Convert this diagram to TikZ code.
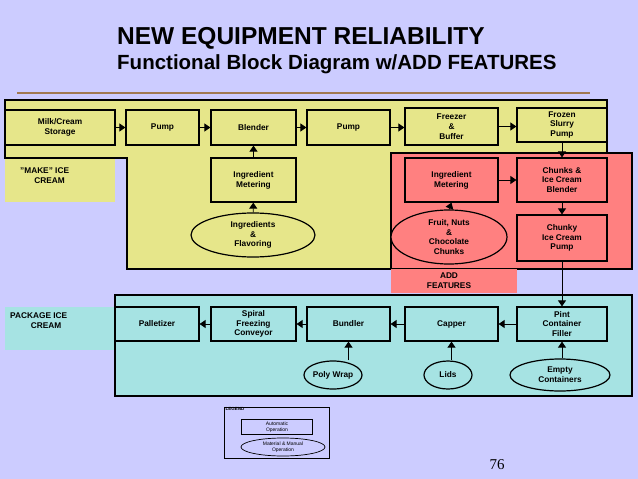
\documentclass[tikz,border=0pt]{standalone}
\usepackage{fontspec}
\setmainfont{Liberation Sans}
\usetikzlibrary{shapes.geometric,arrows.meta}
\definecolor{bg}{HTML}{CCCCFF}
\definecolor{yel}{HTML}{E6E68A}
\definecolor{redf}{HTML}{FF8080}
\definecolor{cyn}{HTML}{A6E3E3}
\definecolor{brn}{HTML}{A07850}
\tikzset{
 x=1pt,y=-1pt,
 blk/.style={draw,line width=1.2pt,font=\fontsize{8.3}{9.8}\selectfont\bfseries,align=center,inner sep=0pt},
 ell/.style={draw,ellipse,line width=1.2pt,font=\fontsize{8.3}{9.8}\selectfont\bfseries,align=center,inner sep=0pt},
 arr/.style={-{Triangle[length=6pt,width=8pt]},line width=0.8pt},
 lbl/.style={font=\fontsize{8.3}{9.8}\selectfont\bfseries,align=center,inner sep=0pt}
}
\newcommand{\bx}[6]{\node[blk,fill=#6,minimum width=#3-#1,minimum height=#4-#2] (#5) at ({(#1+#3)/2},{(#2+#4)/2})}
\begin{document}
\begin{tikzpicture}
\fill[bg] (0,0) rectangle (638,479);
\useasboundingbox (0,0) rectangle (638,479);
\node[anchor=west,font=\fontsize{24.5}{26}\selectfont\bfseries,inner sep=0pt] (t1) at (117,38) {NEW EQUIPMENT RELIABILITY};
\node[anchor=west,font=\fontsize{20.5}{22}\selectfont\bfseries,inner sep=0pt] (t2) at (117,64) {Functional Block Diagram w/ADD FEATURES};
\draw[brn,line width=2.5pt] (17,93) -- (590,93);
% regions
\fill[yel] (5,158) rectangle (115,202);
\node[lbl,anchor=north west] (mk) at (20,168) {"MAKE" ICE\\\hspace*{1.2em}CREAM};
\filldraw[fill=yel,line width=1.2pt] (5,100) -- (607,100) -- (607,269) -- (127,269) -- (127,158) -- (5,158) -- cycle;
\filldraw[fill=redf,line width=1.2pt] (391,153) rectangle (632,269);
\fill[redf] (391,269) rectangle (517,293);
\node[lbl] (af) at (449,281) {ADD\\FEATURES};
\fill[cyn] (5,307) rectangle (115,350);
\node[lbl,anchor=north west] (pk) at (10,313) {PACKAGE ICE\\\hspace*{1.8em}CREAM};
\filldraw[fill=cyn,line width=1.2pt] (115,295) rectangle (632,396);
% top row
\bx{5}{110}{115}{145}{a}{yel} {Milk/Cream\\Storage};
\bx{126}{110}{199}{145}{b}{yel} {Pump};
\bx{211}{110}{296}{145}{c}{yel} {Blender};
\bx{307}{110}{390}{145}{d}{yel} {Pump};
\bx{405}{108}{498}{145}{e}{yel} {Freezer\\\&\\Buffer};
\bx{517}{108}{607}{142}{f}{yel} {Frozen\\Slurry\\Pump};
\bx{211}{158}{296}{202}{g}{yel} {Ingredient\\Metering};
\node[ell,fill=yel,minimum width=124,minimum height=44] (h) at (253,235) {Ingredients\\\&\\Flavoring};
% red
\bx{405}{158}{498}{202}{i}{redf} {Ingredient\\Metering};
\bx{517}{158}{607}{202}{j}{redf} {Chunks \&\\Ice Cream\\Blender};
\bx{517}{215}{607}{261}{k}{redf} {Chunky\\Ice Cream\\Pump};
\node[ell,fill=redf,minimum width=116,minimum height=54] (l) at (449,237) {Fruit, Nuts\\\&\\Chocolate\\Chunks};
% cyan
\bx{115}{307}{199}{341}{m}{cyn} {Palletizer};
\bx{211}{307}{296}{341}{n}{cyn} {Spiral\\Freezing\\Conveyor};
\bx{307}{307}{390}{341}{o}{cyn} {Bundler};
\bx{405}{307}{498}{341}{p}{cyn} {Capper};
\bx{517}{307}{607}{341}{q}{cyn} {Pint\\Container\\Filler};
\node[ell,fill=cyn,minimum width=58,minimum height=28] (r) at (333,375) {Poly Wrap};
\node[ell,fill=cyn,minimum width=48,minimum height=28] (s) at (448,375) {Lids};
\node[ell,fill=cyn,minimum width=100,minimum height=32] (u) at (560,375) {Empty\\Containers};
% arrows
\draw[arr] (a) -- (b); \draw[arr] (b) -- (c); \draw[arr] (c) -- (d);
\draw[arr] (d.east) -- (e.west|-d.east); \draw[arr] (e) -- (f.west|-e);
\draw[arr] (g) -- (c); \draw[arr] (h) -- (g);
\draw[arr] (f) -- (j); \draw[arr] (i) -- (j); \draw[arr] (j) -- (k);
\draw[arr] (l.north) -- (i.south);
\draw[arr] (k) -- (q);
\draw[arr] (q) -- (p); \draw[arr] (p) -- (o); \draw[arr] (o) -- (n); \draw[arr] (n) -- (m);
\draw[arr] (r.north -| o) -- (o.south); \draw[arr] (s.north -| p) -- (p.south); \draw[arr] (u.north -| q) -- (q.south);
% legend
\draw[line width=0.8pt] (224,407) rectangle (329,458);
\node[anchor=north west,font=\fontsize{4.5}{5}\selectfont\bfseries,inner sep=0.5pt] (lg) at (225,407) {LEGEND};
\node[draw,line width=0.7pt,minimum width=71,minimum height=15,font=\fontsize{5}{6}\selectfont,align=center,inner sep=0pt] (la) at (277,427) {Automatic\\Operation};
\node[draw,ellipse,line width=0.7pt,minimum width=84,minimum height=18,font=\fontsize{5}{6}\selectfont,align=center,inner sep=0pt] (lb) at (283,447) {Material \& Manual\\Operation};
\node[font=\fontsize{15}{17}\selectfont] (pg) at (497,465) {\fontspec{Liberation Serif}76};
\end{tikzpicture}
\end{document}
